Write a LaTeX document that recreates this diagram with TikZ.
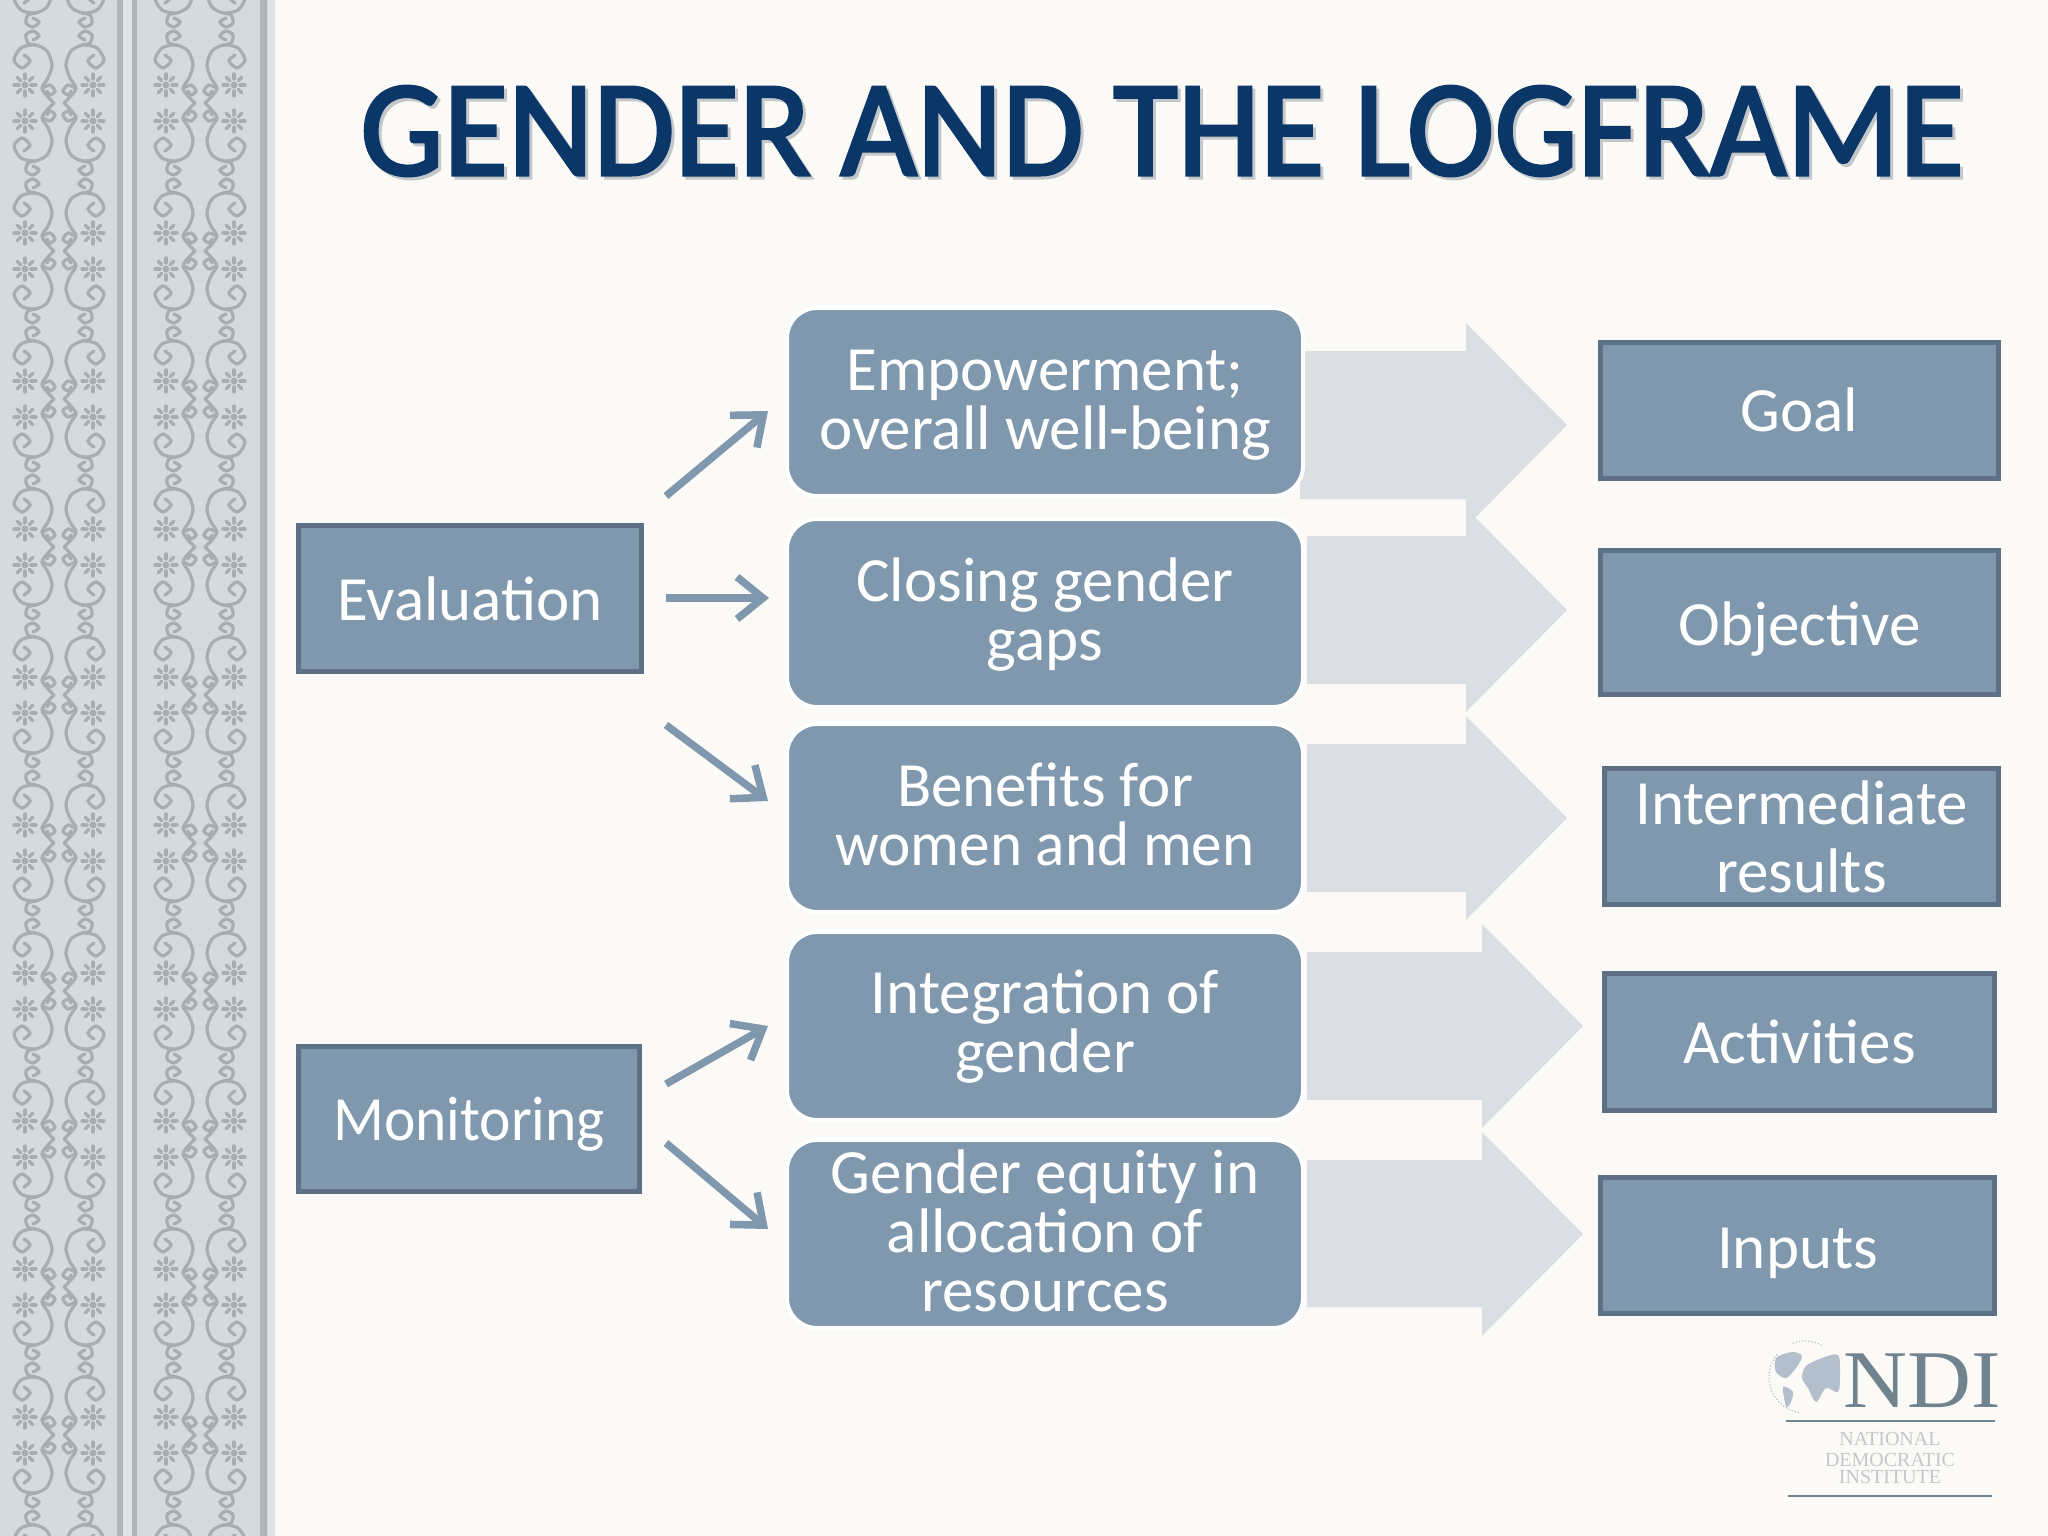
\documentclass[tikz,border=0pt]{standalone}
\usepackage{fontspec}
\setmainfont{Carlito}
\newfontfamily\titlefont[FakeBold=2.2]{Carlito}
\newfontfamily\logofont{Liberation Serif}
\usetikzlibrary{arrows.meta}
\definecolor{bgc}{HTML}{FCFAF7}
\definecolor{stripc}{HTML}{D3DBDF}
\definecolor{gapc}{HTML}{DDE3E6}
\definecolor{ornc}{HTML}{A4AEB4}
\definecolor{linec}{HTML}{AEB6BB}
\definecolor{boxc}{HTML}{7F98AE}
\definecolor{edgec}{HTML}{5D7085}
\definecolor{blockc}{HTML}{DBDFE4}
\definecolor{titlec}{HTML}{0B3668}
\definecolor{shadc}{HTML}{C4C7CA}
\definecolor{logoc}{HTML}{71838F}
\definecolor{logolt}{HTML}{C3C8CC}
\definecolor{globec}{HTML}{B3BFCC}
\tikzset{
  x=1pt,y=-1pt,
  roundbox/.style={rectangle,rounded corners=30pt,fill=boxc,draw=white,line width=4pt,
    minimum width=516pt,minimum height=188pt,inner sep=0pt},
  squarebox/.style={rectangle,fill=boxc,draw=edgec,line width=5pt,inner sep=0pt},
  boxlabel/.style={text=white,align=center,inner sep=0pt,font=\fontsize{63}{59}\selectfont},
  widelabel/.style={boxlabel,font=\fontsize{63}{68}\selectfont},
  link/.style={draw=boxc,line width=7.5pt,-{Straight Barb[length=26pt,width=42pt,line width=7.5pt]}},
  orn/.style={draw=ornc,line width=3.2pt,line cap=round},
  petal/.style={draw=ornc,line width=3.4pt,line cap=round},
  block/.style={fill=blockc,draw=none},
  titletext/.style={inner sep=0pt,anchor=base west,font=\titlefont\fontsize{137}{137}\selectfont},
  logotext/.style={text=logolt,inner sep=0pt,font=\logofont\fontsize{20}{20}\selectfont},
}
\newcommand{\quadrant}{%
  \draw[orn] plot[smooth] coordinates {(-5,0) (-11,-6) (-17,-15) (-11,-25) (-7,-38) (-12,-52) (-24,-58) (-38,-55) (-45,-43) (-37,-35) (-29,-42) (-35,-48)};
  \draw[orn] plot[smooth] coordinates {(-16,-15) (-9,-18) (-4,-12) (-9,-8) (-12,-12)};
  \draw[orn] plot[smooth] coordinates {(-23,-58) (-31,-60) (-33,-68) (-26,-72) (-20,-67) (-26,-63)};
  \foreach \a in {0,45,...,315}{
    \draw[petal] ([shift={(\a:6)}]-34,-18) -- ([shift={(\a:11)}]-34,-18);
  }
  \fill[ornc] (-34,-18) circle (3.5);
}
\newcommand{\tile}{%
  \begin{scope}\quadrant\end{scope}
  \begin{scope}[xscale=-1]\quadrant\end{scope}
  \begin{scope}[yscale=-1]\quadrant\end{scope}
  \begin{scope}[xscale=-1,yscale=-1]\quadrant\end{scope}
}
\newcommand{\blockarrow}[6]{% shaft left, shaft top, shaft bottom, head x, tip x, tip y
  \path[block] (#1,#2) -- (#4,#2) -- (#4,#6-102) -- (#5,#6) -- (#4,#6+102) -- (#4,#3) -- (#1,#3) -- cycle;
}
\begin{document}
\begin{tikzpicture}
\useasboundingbox (0,0) rectangle (2048,1536);
\fill[bgc] (0,0) rectangle (2048,1536);
% side ornament
\fill[stripc] (0,0) rectangle (275,1536);
\fill[gapc] (123,0) rectangle (133,1536);
\fill[gapc] (268,0) rectangle (275,1536);
\fill[linec] (117,0) rectangle (123,1536);
\fill[linec] (132,0) rectangle (137,1536);
\fill[linec] (260,0) rectangle (267,1536);
\begin{scope}
  \clip (0,0) rectangle (275,1536);
  \foreach \k in {-1,...,10}{
    \begin{scope}[shift={(59,103+148*\k)}]\tile\end{scope}
    \begin{scope}[shift={(200,103+148*\k)}]\tile\end{scope}
  }
\end{scope}
% title
\node[titletext,text=shadc] at (363,178) {\scalebox{0.964}[1]{GENDER AND THE LOGFRAME}};
\node[titletext,text=titlec] (title) at (360,175) {\scalebox{0.964}[1]{GENDER AND THE LOGFRAME}};
% block arrows
\blockarrow{1300}{351}{499}{1466}{1567}{425}
\blockarrow{1307}{536}{684}{1466}{1567}{610}
\blockarrow{1307}{744}{892}{1466}{1567}{818}
\blockarrow{1307}{952}{1100}{1482}{1583}{1026}
\blockarrow{1307}{1160}{1307}{1482}{1583}{1234}
% centre boxes
\node[roundbox,label={[boxlabel,yshift=-3pt]center:Empowerment;\\overall well-being}] (emp) at (1045,402) {};
\node[roundbox,label={[boxlabel,yshift=-2pt]center:Closing gender\\gaps}] (gaps) at (1045,613) {};
\node[roundbox,label={[boxlabel,yshift=4pt]center:Benefits for\\\scalebox{0.97}[1]{women and men}}] (ben) at (1045,818) {};
\node[roundbox,label={[boxlabel,yshift=-1pt]center:Integration of\\gender}] (integ) at (1045,1026) {};
\node[roundbox,label={[boxlabel,yshift=3pt]center:Gender equity in\\allocation of\\resources}] (equity) at (1045,1234) {};
% right boxes
\node[squarebox,minimum width=398pt,minimum height=136pt,label={[boxlabel]center:Goal}] (goal) at (1799.5,410) {};
\node[squarebox,minimum width=398pt,minimum height=144pt,label={[boxlabel,yshift=-7pt]center:Objective}] (obj) at (1799.5,622) {};
\node[squarebox,minimum width=394pt,minimum height=136pt,label={[widelabel]center:Intermediate\\results}] (inter) at (1801.5,836.5) {};
\node[squarebox,minimum width=390pt,minimum height=137pt,label={[boxlabel]center:Activities}] (act) at (1799.5,1042) {};
\node[squarebox,minimum width=394pt,minimum height=136pt,label={[boxlabel,yshift=-8pt]center:Inputs}] (inp) at (1797.5,1245.5) {};
% left boxes
\node[squarebox,minimum width=343pt,minimum height=146pt,label={[boxlabel]center:Evaluation}] (eval) at (470,598.5) {};
\node[squarebox,minimum width=341pt,minimum height=145pt,label={[boxlabel,yshift=-5pt]center:\scalebox{0.945}[1]{Monitoring}}] (mon) at (469,1119) {};
% small arrows
\coordinate (e1) at (666,496); \coordinate (e1t) at (768,411);
\coordinate (e2) at (666,598); \coordinate (e2t) at (769,598);
\coordinate (e3) at (666,725); \coordinate (e3t) at (768,801);
\coordinate (m1) at (666,1084); \coordinate (m1t) at (768,1026);
\coordinate (m2) at (666,1143); \coordinate (m2t) at (768,1229);
\draw[link] (e1) -- (e1t);
\draw[link] (e2) -- (e2t);
\draw[link] (e3) -- (e3t);
\draw[link] (m1) -- (m1t);
\draw[link] (m2) -- (m2t);
% logo
\draw[globec,line width=1.2pt,dotted] (1805,1377) ++(100:36) arc (100:220:36);
\draw[globec,line width=1.2pt,dotted] (1805,1377) ++(250:36) arc (250:300:36);
\fill[globec] plot[smooth cycle] coordinates {(1806,1366) (1822,1358) (1838,1355) (1840,1375) (1838,1392) (1826,1388) (1816,1402) (1808,1388) (1802,1378)};
\fill[globec] plot[smooth cycle] coordinates {(1776,1358) (1792,1352) (1802,1356) (1796,1368) (1786,1378) (1776,1372)};
\fill[globec] plot[smooth cycle] coordinates {(1783,1387) (1793,1392) (1790,1404) (1786,1406)};
\node[inner sep=0pt,anchor=base west,text=logoc,font=\logofont\fontsize{82}{82}\selectfont] (ndi) at (1843,1407) {\scalebox{1.08}[1]{NDI}};
\draw[logoc,line width=1.5pt] (1786,1421) -- (1995,1421);
\draw[logoc,line width=1.5pt] (1788,1496) -- (1992,1496);
\node[logotext] (nat) at (1890,1439) {NATIONAL};
\node[logotext] (dem) at (1890,1460) {DEMOCRATIC};
\node[logotext] (ins) at (1890,1477) {INSTITUTE};
\end{tikzpicture}
\end{document}
